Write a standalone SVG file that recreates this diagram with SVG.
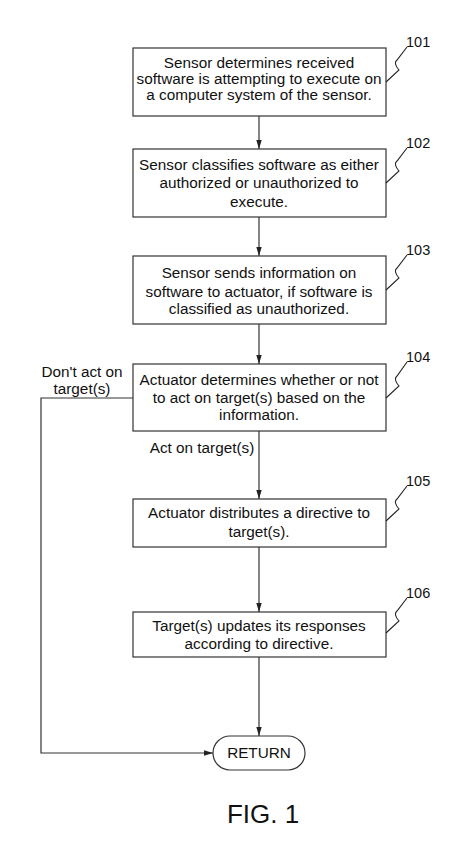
<svg xmlns="http://www.w3.org/2000/svg" width="474" height="841" viewBox="0 0 474 841">
<style>
.box{fill:#fff;stroke:#333;stroke-width:1.2}
.t{font-family:"Liberation Sans",Arial,sans-serif;font-size:15.3px;fill:#111;text-anchor:middle}
.lbl{font-family:"Liberation Sans",Arial,sans-serif;font-size:14.5px;fill:#111}
.ln{fill:none;stroke:#333;stroke-width:1.2}
.sq{fill:none;stroke:#222;stroke-width:1.1}
</style>
<defs>
<marker id="ah" viewBox="0 0 10 10" refX="10" refY="5" markerWidth="9" markerHeight="9" markerUnits="userSpaceOnUse" orient="auto">
<path d="M0,2 L10,5 L0,8 Z" fill="#222"/>
</marker>
</defs>
<rect width="474" height="841" fill="#fff"/>
<g id="connectors">
<line class="ln" x1="259" y1="116" x2="259" y2="149" marker-end="url(#ah)"/>
<line class="ln" x1="259" y1="217" x2="259" y2="256" marker-end="url(#ah)"/>
<line class="ln" x1="259" y1="324" x2="259" y2="364" marker-end="url(#ah)"/>
<line class="ln" x1="259" y1="431" x2="259" y2="499" marker-end="url(#ah)"/>
<line class="ln" x1="259" y1="547" x2="259" y2="612" marker-end="url(#ah)"/>
<line class="ln" x1="259" y1="657" x2="259" y2="736" marker-end="url(#ah)"/>
<polyline class="ln" points="133,398 41,398 41,753 213,753" marker-end="url(#ah)"/>
<text class="t" x="82" y="377">Don't act on</text>
<text class="t" x="82" y="394">target(s)</text>
<text class="t" x="202" y="453">Act on target(s)</text>
</g>
<g id="n101">
<rect class="box" x="133" y="48" width="253" height="68"/>
<text class="t" x="259" y="68">Sensor determines received</text>
<text class="t" x="259" y="84">software is attempting to execute on</text>
<text class="t" x="259" y="100">a computer system of the sensor.</text>
<path class="sq" d="M386,82 L399,70 Q393,63 397,60 L407,47"/>
<text class="lbl" x="406" y="47">101</text>
</g>
<g id="n102">
<rect class="box" x="133" y="149" width="253" height="68"/>
<text class="t" x="259" y="170">Sensor classifies software as either</text>
<text class="t" x="259" y="188">authorized or unauthorized to</text>
<text class="t" x="259" y="207">execute.</text>
<path class="sq" d="M386,183 L399,171 Q393,164 397,161 L407,148"/>
<text class="lbl" x="406" y="148">102</text>
</g>
<g id="n103">
<rect class="box" x="133" y="256" width="253" height="68"/>
<text class="t" x="259" y="278">Sensor sends information on</text>
<text class="t" x="259" y="297">software to actuator, if software is</text>
<text class="t" x="259" y="314">classified as unauthorized.</text>
<path class="sq" d="M386,290 L399,278 Q393,271 397,268 L407,255"/>
<text class="lbl" x="406" y="255">103</text>
</g>
<g id="n104">
<rect class="box" x="133" y="364" width="253" height="67"/>
<text class="t" x="259" y="385">Actuator determines whether or not</text>
<text class="t" x="259" y="403">to act on target(s) based on the</text>
<text class="t" x="259" y="420">information.</text>
<path class="sq" d="M386,398 L399,386 Q393,379 397,376 L407,362"/>
<text class="lbl" x="406" y="362">104</text>
</g>
<g id="n105">
<rect class="box" x="133" y="499" width="253" height="48"/>
<text class="t" x="259" y="518">Actuator distributes a directive to</text>
<text class="t" x="259" y="537">target(s).</text>
<path class="sq" d="M386,521 L399,509 Q393,502 397,499 L407,486"/>
<text class="lbl" x="406" y="486">105</text>
</g>
<g id="n106">
<rect class="box" x="133" y="612" width="253" height="45"/>
<text class="t" x="259" y="631">Target(s) updates its responses</text>
<text class="t" x="259" y="649">according to directive.</text>
<path class="sq" d="M386,633 L399,621 Q393,614 397,611 L407,598"/>
<text class="lbl" x="406" y="598">106</text>
</g>
<g id="return">
<rect class="box" x="213" y="736" width="92" height="34" rx="17" ry="17"/>
<text class="t" x="259" y="758">RETURN</text>
</g>
<text class="t" x="263" y="823" style="font-size:26px">FIG. 1</text>
</svg>
